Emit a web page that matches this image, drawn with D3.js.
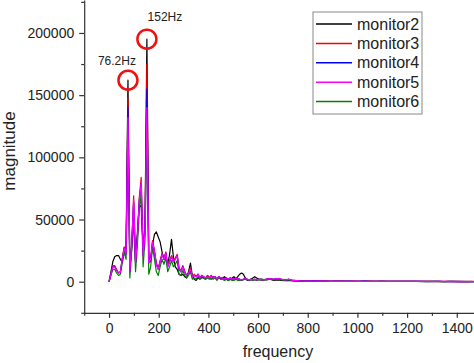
<!DOCTYPE html>
<html>
<head>
<meta charset="utf-8">
<script src="https://cdn.jsdelivr.net/npm/d3@7"></script>
<style>
  body { margin: 0; background: #fff; }
  svg { display: block; font-family: "Liberation Sans", Arial, sans-serif; }
</style>
</head>
<body>
<div id="chart"></div>
<script>
// frequency (Hz), shared by all monitors
let freq = [
  0, 7.6, 15.2, 22.9, 30.5, 38.1, 45.7, 53.3, 61, 68.6,
  76.2, 83.8, 91.4, 99.1, 106.7, 114.3, 121.9, 129.5, 137.2, 144.8,
  152.4, 160, 167.6, 175.3, 182.9, 190.5, 198.1, 205.7, 213.4, 221,
  228.6, 236.2, 243.8, 251.5, 259.1, 266.7, 274.3, 281.9, 289.6, 297.2,
  304.8, 312.4, 320, 327.7, 335.3, 342.9, 350.5, 358.1, 365.8, 373.4,
  381, 388.6, 396.2, 403.9, 411.5, 419.1, 426.7, 434.3, 442, 449.6,
  457.2, 464.8, 472.4, 480.1, 487.7, 495.3, 502.9, 510.5, 518.2, 525.8,
  533.4, 541, 548.6, 556.3, 563.9, 571.5, 579.1, 586.7, 594.4, 602,
  617, 632, 648, 663, 678, 693, 709, 724, 739, 754,
  770, 785, 800, 823, 846, 869, 892, 914, 937, 960,
  983, 1006, 1029, 1052, 1074, 1097, 1120, 1143, 1166, 1189,
  1212, 1234, 1257, 1280, 1303, 1326, 1349, 1372, 1394, 1417,
  1440, 1463, 1486, 1509
];

// magnitude, in thousands
let monitor2 = [
  0, 8, 16, 20, 21, 21, 18, 16, 24, 28,
  162, 12, 26, 50, 18, 40, 62, 60, 28, 45,
  195, 20, 16, 30, 38, 40, 36, 32, 24, 18,
  20, 14, 22, 34, 20, 12, 10, 6, 5, 6,
  4, 3, 8, 15, 5, 2, 1, 3, 2, 4,
  3, 2, 5, 3, 2, 4, 3, 2, 4, 2,
  3, 4, 2, 1, 2, 3, 4, 2, 4, 6,
  7, 6, 3, 1, 1, 2, 3, 4, 3, 2,
  2, 1.5, 2, 1, 1.5, 1, 0.8, 1, 0.6, 0.8,
  0.5, 0.6, 0.5, 0.6, 0.4, 0.5, 0.3, 0.5, 0.4, 0.3,
  0.5, 0.3, 0.4, 0.3, 0.2, 0.4, 0.3, 0.2, 0.3, 0.2,
  0.3, 0.2, 0.2, 0.3, 0.2, 0.2, 0.1, 0.2, 0.2, 0.1,
  0.2, 0.1, 0.2, 0.1
];
let monitor3 = [
  0, 6, 13, 13, 10, 7, 8, 19, 28, 23,
  148, 9, 31, 69, 16, 37, 68, 84, 22, 42,
  175, 16, 19, 33, 25, 15, 11, 17, 23, 19,
  24, 13, 17, 21, 17, 19, 22, 11, 9, 13,
  8, 5, 7, 11, 4, 6, 4, 6, 3, 5,
  4, 3, 5, 3, 5, 3, 4, 2, 4, 3,
  3, 2, 3, 2, 3, 2, 2, 3, 2, 2,
  1.5, 2, 2.5, 2, 1.5, 2, 1.5, 2, 1.5, 2,
  1.5, 2, 2.5, 2, 2.5, 2, 1.5, 2, 1, 0.8,
  0.6, 0.5, 0.5, 0.5, 0.4, 0.5, 0.4, 0.3, 0.4, 0.3,
  0.4, 0.3, 0.3, 0.4, 0.2, 0.3, 0.3, 0.2, 0.3, 0.2,
  0.2, 0.3, 0.2, 0.2, 0.2, 0.1, 0.2, 0.2, 0.1, 0.2,
  0.1, 0.2, 0.1, 0.1
];
let monitor4 = [
  0, 6, 12, 12, 9, 7, 8, 18, 27, 22,
  140, 8, 30, 64, 15, 36, 66, 78, 21, 41,
  155, 15, 18, 32, 24, 14, 10, 16, 22, 18,
  23, 12, 16, 20, 16, 18, 21, 10, 8, 12,
  8, 5, 7, 10, 4, 5, 4, 6, 3, 5,
  4, 3, 4, 3, 5, 3, 4, 2, 4, 3,
  3, 2, 3, 2, 3, 2, 2, 3, 2, 2,
  1.5, 2, 2.5, 2, 1.5, 2, 1.5, 2, 1.5, 2,
  1.5, 2, 2.5, 2, 2.5, 2, 1.5, 2, 1, 0.8,
  0.6, 0.5, 0.5, 0.6, 0.4, 0.5, 0.3, 0.4, 0.3, 0.4,
  0.3, 0.3, 0.4, 0.3, 0.2, 0.3, 0.2, 0.3, 0.2, 0.2,
  0.3, 0.2, 0.2, 0.1, 0.2, 0.2, 0.1, 0.2, 0.1, 0.2,
  0.1, 0.1, 0.2, 0.1
];
let monitor5 = [
  0, 6, 12, 12, 9, 7, 8, 18, 27, 22,
  132, 8, 30, 66, 15, 35, 65, 80, 20, 40,
  140, 15, 18, 32, 24, 14, 10, 16, 22, 18,
  23, 12, 16, 20, 16, 18, 21, 10, 8, 12,
  8, 5, 7, 10, 4, 5, 4, 6, 3, 5,
  4, 3, 4, 3, 5, 3, 4, 2, 4, 3,
  3, 2, 3, 2, 3, 2, 2, 3, 2, 2,
  1.5, 2, 2.5, 2, 1.5, 2, 1.5, 2, 1.5, 2,
  1.5, 2, 2.5, 2, 2.5, 2, 1.5, 2, 1, 0.8,
  0.6, 0.5, 0.5, 0.5, 0.4, 0.4, 0.3, 0.4, 0.3, 0.3,
  0.4, 0.3, 0.3, 0.3, 0.2, 0.3, 0.2, 0.2, 0.3, 0.2,
  0.2, 0.2, 0.2, 0.2, 0.1, 0.2, 0.2, 0.1, 0.2, 0.1,
  0.1, 0.2, 0.1, 0.1
];
let monitor6 = [
  0, 5, 10, 10, 7, 5, 6, 15, 24, 18,
  115, 3, 26, 55, 8, 30, 58, 70, 12, 34,
  122, 6, 12, 28, 18, 8, 5, 12, 18, 14,
  19, 8, 12, 17, 12, 14, 17, 6, 5, 9,
  5, 3, 5, 8, 2, 3, 2, 4, 2, 3,
  3, 2, 3, 2, 3, 2, 3, 1, 3, 2,
  2, 1, 2, 1, 2, 1, 1, 2, 1, 1,
  1, 1.5, 2, 1.5, 1, 1.5, 1, 1.5, 1, 1.5,
  1, 1.5, 2, 1.5, 2, 1.5, 1, 1.5, 0.8, 0.6,
  0.5, 0.4, 0.4, 0.5, 0.3, 0.4, 0.3, 0.4, 0.3, 0.3,
  0.3, 0.3, 0.3, 0.2, 0.2, 0.3, 0.2, 0.2, 0.2, 0.2,
  0.2, 0.2, 0.1, 0.2, 0.1, 0.2, 0.1, 0.1, 0.2, 0.1,
  0.1, 0.1, 0.1, 0.1
];

let seriesNames = ["monitor2", "monitor3", "monitor4", "monitor5", "monitor6"];
let seriesValues = [monitor2, monitor3, monitor4, monitor5, monitor6];
let colors = ["#000000", "#ff0000", "#0000ff", "#ff00ff", "#008000"];
// paint order: black underneath, then green, red, blue, magenta on top
let drawOrder = [0, 4, 1, 2, 3];

let xTicks = [0, 200, 400, 600, 800, 1000, 1200, 1400];
let xMinorTicks = [-100, 100, 300, 500, 700, 900, 1100, 1300, 1500];
let yTicks = [0, 50, 100, 150, 200];
let yTickLabels = ["0", "50000", "100000", "150000", "200000"];
let yMinorTicks = [-25, 25, 75, 125, 175, 225];

let peakFreq = [76.2, 152.4];
let peakMag = [162, 195];
let peakLabels = ["76.2Hz", "152Hz"];

let chart = { width: 474, height: 363 };

let svg = d3.select("#chart").append("svg")
  .attr("width", chart.width)
  .attr("height", chart.height);

let x = d3.scaleLinear().domain([-100, 1500]).range([84.2, 481.6]);
let y = d3.scaleLinear().domain([-25, 226.5]).range([312.8, 0]);

// lines
let line = d3.line()
  .x((d, i) => x(freq[i]))
  .y(d => y(d));

svg.append("g")
  .selectAll("path")
  .data(drawOrder)
  .enter()
  .append("path")
  .attr("d", k => line(seriesValues[k]))
  .attr("fill", "none")
  .attr("stroke", k => colors[k])
  .attr("stroke-width", 1.2)
  .attr("stroke-linejoin", "round");

// axes
let axisColor = "#333";
svg.append("g")
  .attr("transform", `translate(0,${y(-25)})`)
  .call(d3.axisBottom(x).tickValues(xTicks).tickSize(5).tickSizeOuter(0).tickPadding(5).tickFormat(d3.format("d")));
svg.append("g")
  .attr("transform", `translate(0,${y(-25)})`)
  .call(d3.axisBottom(x).tickValues(xMinorTicks).tickSize(3).tickSizeOuter(0).tickFormat(""))
  .select(".domain").remove();

svg.append("g")
  .attr("transform", `translate(${x(-100)},0)`)
  .call(d3.axisLeft(y).tickValues(yTicks).tickSize(5).tickSizeOuter(0).tickPadding(5)
    .tickFormat((d, i) => yTickLabels[i]));
svg.append("g")
  .attr("transform", `translate(${x(-100)},0)`)
  .call(d3.axisLeft(y).tickValues(yMinorTicks).tickSize(3).tickSizeOuter(0).tickFormat(""))
  .select(".domain").remove();

svg.selectAll(".domain, .tick line").attr("stroke", axisColor).attr("stroke-width", 1.2);
svg.selectAll(".tick text")
  .attr("font-size", 14)
  .attr("font-family", "Liberation Sans, Arial, sans-serif")
  .attr("fill", "#222");

// axis titles
svg.append("text")
  .attr("x", 278)
  .attr("y", 357)
  .attr("text-anchor", "middle")
  .attr("font-size", 16)
  .attr("fill", "#222")
  .text("frequency");

svg.append("text")
  .attr("transform", "translate(15,151) rotate(-90)")
  .attr("text-anchor", "middle")
  .attr("font-size", 17)
  .attr("fill", "#222")
  .text("magnitude");

// peak markers
let peaks = svg.append("g");
peaks.selectAll("circle")
  .data(peakFreq)
  .enter()
  .append("circle")
  .attr("cx", d => x(d))
  .attr("cy", (d, i) => y(peakMag[i]))
  .attr("r", 9.5)
  .attr("fill", "none")
  .attr("stroke", "#ee1111")
  .attr("stroke-width", 2.5);

let labelDx = [-11, 18];
let labelDy = [-15, -18];
peaks.selectAll("text")
  .data(peakFreq)
  .enter()
  .append("text")
  .attr("x", (d, i) => x(d) + labelDx[i])
  .attr("y", (d, i) => y(peakMag[i]) + labelDy[i])
  .attr("text-anchor", "middle")
  .attr("font-size", 12)
  .attr("fill", "#222")
  .text((d, i) => peakLabels[i]);

// legend
let legend = svg.append("g").attr("transform", "translate(313,12)");
legend.append("rect")
  .attr("width", 109)
  .attr("height", 102)
  .attr("fill", "#fff")
  .attr("stroke", "#888")
  .attr("stroke-width", 1);

let rows = legend.selectAll("g.row")
  .data(seriesNames)
  .enter()
  .append("g")
  .attr("class", "row")
  .attr("transform", (d, i) => `translate(0,${12 + i * 19.4})`);
rows.append("line")
  .attr("x1", 3).attr("x2", 39)
  .attr("stroke", (d, i) => colors[i])
  .attr("stroke-width", 1.5);
rows.append("text")
  .attr("x", 44)
  .attr("y", 5.5)
  .attr("font-size", 16)
  .attr("fill", "#222")
  .text(d => d);
</script>
</body>
</html>
